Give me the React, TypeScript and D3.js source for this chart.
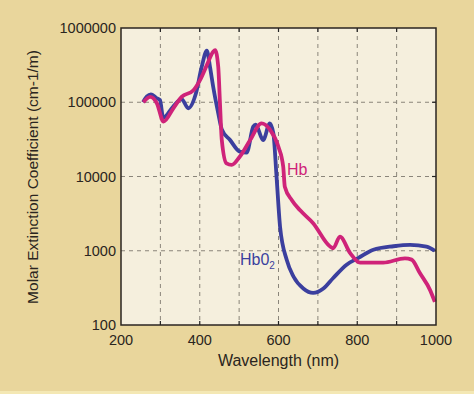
import React, { useEffect, useRef } from "react";
import * as d3 from "d3";

// Hb (deoxy) spectrum
const hbWave = [257, 274, 291, 308, 333, 354, 384, 401, 418, 434, 439, 447, 451, 456, 468, 481, 502, 528, 557, 578, 600, 612, 616, 634, 655, 688, 731, 739, 756, 782, 807, 866, 921, 938, 959, 985, 997];
const hbValue = [100000, 118000, 97000, 55000, 83000, 118000, 145000, 200000, 316000, 480000, 505000, 300000, 107000, 31000, 15000, 14300, 18600, 31000, 52000, 43000, 25000, 13500, 7300, 4800, 3500, 2350, 1140, 1080, 1550, 930, 690, 690, 790, 760, 500, 295, 205];

// HbO2 spectrum
const hbo2Wave = [256, 266, 276, 289, 299, 307, 332, 354, 371, 390, 405, 418, 426, 434, 447, 456, 477, 502, 519, 536, 542, 561, 578, 587, 595, 604, 621, 638, 663, 688, 714, 739, 773, 803, 841, 892, 934, 976, 997];
const hbo2Value = [100000, 120000, 128000, 115000, 107000, 62000, 87000, 110000, 83000, 130000, 300000, 495000, 300000, 163000, 71000, 43000, 31000, 21600, 21000, 47000, 50000, 31000, 52000, 38000, 10000, 2100, 750, 450, 310, 270, 310, 430, 650, 800, 1030, 1150, 1200, 1140, 1000];

const xTicks = [200, 400, 600, 800, 1000];
const xGrid = [300, 400, 500, 600, 700, 800, 900];
const yTicks = [100, 1000, 10000, 100000, 1000000];
const yGrid = [1000, 10000, 100000];

const W = 474;
const H = 394;
const margin = { top: 28, right: 38, bottom: 69, left: 121 };

const App = () => {
  const svgRef = useRef<SVGSVGElement>(null);

  useEffect(() => {
    const svg = d3.select(svgRef.current);
    svg.selectAll("*").remove();

    const x = d3.scaleLinear().domain([200, 1000]).range([margin.left, W - margin.right]);
    const y = d3.scaleLog().domain([100, 1000000]).range([H - margin.bottom, margin.top]);

    // background
    svg.append("rect").attr("width", W).attr("height", H).attr("fill", "#e9d69c");
    svg.append("rect").attr("x", 0).attr("y", H - 3).attr("width", W).attr("height", 3).attr("fill", "#f4e8b4");

    svg
      .append("rect")
      .attr("x", margin.left)
      .attr("y", margin.top)
      .attr("width", x(1000) - x(200))
      .attr("height", y(100) - y(1000000))
      .attr("fill", "#f5efdd");

    // dashed grid
    svg
      .selectAll("line.vg")
      .data(xGrid)
      .enter()
      .append("line")
      .attr("x1", (d) => x(d))
      .attr("x2", (d) => x(d))
      .attr("y1", y(1000000))
      .attr("y2", y(100))
      .attr("stroke", "#8a857a")
      .attr("stroke-width", 1)
      .attr("stroke-dasharray", "4,4");

    svg
      .selectAll("line.hg")
      .data(yGrid)
      .enter()
      .append("line")
      .attr("x1", x(200))
      .attr("x2", x(1000))
      .attr("y1", (d) => y(d))
      .attr("y2", (d) => y(d))
      .attr("stroke", "#8a857a")
      .attr("stroke-width", 1)
      .attr("stroke-dasharray", "4,4");

    // small ticks top & bottom
    xGrid.forEach((d) => {
      svg.append("line").attr("x1", x(d)).attr("x2", x(d)).attr("y1", y(100)).attr("y2", y(100) - 4).attr("stroke", "#222").attr("stroke-width", 1.2);
      svg.append("line").attr("x1", x(d)).attr("x2", x(d)).attr("y1", y(1000000)).attr("y2", y(1000000) + 4).attr("stroke", "#222").attr("stroke-width", 1.2);
    });
    yGrid.forEach((d) => {
      svg.append("line").attr("x1", x(1000)).attr("x2", x(1000) - 4).attr("y1", y(d)).attr("y2", y(d)).attr("stroke", "#222").attr("stroke-width", 1.2);
    });

    const line = d3
      .line<[number, number]>()
      .x((d) => x(d[0]))
      .y((d) => y(d[1]))
      .curve(d3.curveMonotoneX);

    const hbData = hbWave.map((w, i) => [w, hbValue[i]] as [number, number]);
    const hbo2Data = hbo2Wave.map((w, i) => [w, hbo2Value[i]] as [number, number]);

    svg
      .append("path")
      .datum(hbo2Data)
      .attr("d", line)
      .attr("fill", "none")
      .attr("stroke", "#3b3f9e")
      .attr("stroke-width", 3.8)
      .attr("stroke-linejoin", "round");

    svg
      .append("path")
      .datum(hbData)
      .attr("d", line)
      .attr("fill", "none")
      .attr("stroke", "#cf2379")
      .attr("stroke-width", 3.8)
      .attr("stroke-linejoin", "round");

    // frame
    svg
      .append("rect")
      .attr("x", margin.left)
      .attr("y", margin.top)
      .attr("width", x(1000) - x(200))
      .attr("height", y(100) - y(1000000))
      .attr("fill", "none")
      .attr("stroke", "#2a2520")
      .attr("stroke-width", 1.5);

    const font = "Liberation Sans, Arial, sans-serif";

    svg
      .selectAll("text.yt")
      .data(yTicks)
      .enter()
      .append("text")
      .attr("x", margin.left - 5)
      .attr("y", (d) => y(d) + 5)
      .attr("text-anchor", "end")
      .style("font-family", font)
      .style("font-size", "14.5px")
      .attr("fill", "#2a2520")
      .text((d) => String(d));

    svg
      .selectAll("text.xt")
      .data(xTicks)
      .enter()
      .append("text")
      .attr("x", (d) => x(d))
      .attr("y", y(100) + 20)
      .attr("text-anchor", "middle")
      .style("font-family", font)
      .style("font-size", "14.5px")
      .attr("fill", "#2a2520")
      .text((d) => String(d));

    svg
      .append("text")
      .attr("x", x(600))
      .attr("y", 366)
      .attr("text-anchor", "middle")
      .style("font-family", font)
      .style("font-size", "16px")
      .attr("fill", "#2a2520")
      .text("Wavelength (nm)");

    svg
      .append("text")
      .attr("transform", "rotate(-90)")
      .attr("x", -177)
      .attr("y", 38)
      .attr("text-anchor", "middle")
      .style("font-family", font)
      .style("font-size", "15.5px")
      .attr("fill", "#2a2520")
      .text("Molar Extinction Coefficient (cm-1/m)");

    svg
      .append("text")
      .attr("x", 287)
      .attr("y", 175)
      .style("font-family", font)
      .style("font-size", "16px")
      .attr("fill", "#cf2379")
      .text("Hb");

    const t = svg
      .append("text")
      .attr("x", 240)
      .attr("y", 265)
      .style("font-family", font)
      .style("font-size", "16px")
      .attr("fill", "#3b3f9e");
    t.append("tspan").text("Hb0");
    t.append("tspan").attr("dy", 4).style("font-size", "10px").text("2");
  }, []);

  return (
    <svg
      ref={svgRef}
      width={W}
      height={H}
      style={{ position: "absolute", left: 0, top: 0 }}
    ></svg>
  );
};

export default App;
